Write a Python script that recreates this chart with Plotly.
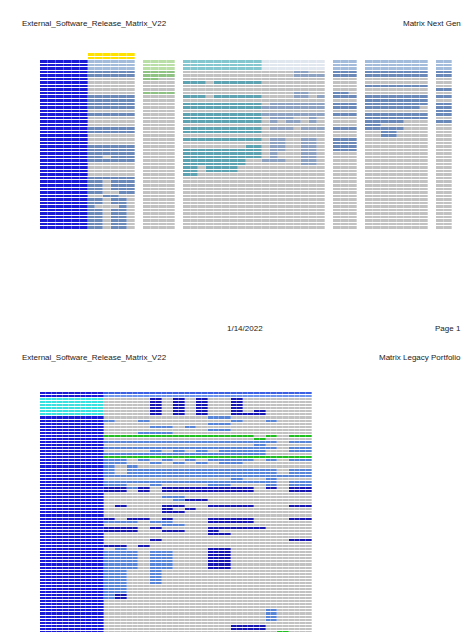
import plotly.graph_objects as go

W, H = 474, 632

# colour codes used in the cell maps
palette = {
    'w': '#ffffff', '.': '#c2c2c2', 'B': '#1b1bd6', 'S': '#6b89b9',
    'G': '#8fc383', 'T': '#5ea3b2', 'l': '#8ea3c2', 'H': '#a3bcdb',
    'h': '#b9dea6', 't': '#84c7cf', 'L': '#e1e7ef', 'Y': '#ffe100',
    'N': '#1818b0', 'b': '#5a86d8', 'g': '#1fbf1f', 'C': '#38e0e0',
    'K': '#3b60e4', 'M': '#7096ee',
}
codes = list(palette.keys())

# ---- page 1 : Matrix Next Gen ----
p1_groups = ['A', '_', 'G', '_', 'T', 'L', '_', 's', '_', 's', '_', 's']
p1_widths = [6, 1, 4, 1, 10, 8, 1, 3, 1, 8, 1, 2]
p1_fill = {'A': 'S', 'G': 'G', 'T': 'T', 'L': 'l', 's': 'S'}
p1_head = {'A': 'H', 'G': 'h', 'T': 't', 'L': 'L', 's': 'H'}
# one tuple per data row: (A, G, T, L, s1, s2, s3), X = filled cell
p1_rows = [
    ('XXXXXX', 'XXXX', '', '....XX..', 'XXX', 'XXXXXXXX', 'XX'),
    ('XXXXXX', 'XXXX', '', '....XXXX', 'XXX', 'XXXXXXXX', 'XX'),
    ('', 'XX', '', '', '', '', ''),
    ('', '', 'XXX.XXXXXX', '', '', '', ''),
    ('', '', '', '', '', 'XXXXXXXX', ''),
    ('', '', '', '', '', '', 'XX'),
    ('', 'XXXX', '', '....XX..', 'XX', '', ''),
    ('XXXXXX', '', 'XXX.XXXXXX', '....XX.X', 'XXX', 'XXXXXXXX', 'XX'),
    ('XXXXXX', '', '', '', '', 'XXXXXXXX', ''),
    ('XXXXXX', '', 'XXXXXXXXXX', '.XXXXXXX', 'XXX', 'XXXXXXXX', 'XX'),
    ('XXXXXX', '', 'XXXXXXXXXX', 'XXXXXXXX', 'XXX', 'XXXXXXX', 'XX'),
    ('', '', '', '', '', '', 'XX'),
    ('XXXXXX', '', 'XXXXXXXXXX', 'XXXXXXXX', 'XXX', 'XXXXXXXX', 'XX'),
    ('', '', 'XXXXXXXXXX', '.XXX..X.', '', 'XXXXXXXX', ''),
    ('', '', 'XXXXXXXXXX', '.X.XX.X.', '', 'XXXXX', 'XX'),
    ('', '', '', '', '', 'XX', ''),
    ('XXXXXX', '', 'XXXXXXXXXX', '.XXX.XXX', 'XXX', 'XXXXX', ''),
    ('XXXXXX', '', 'XXXXXXXXXX', '', '', '..XX', ''),
    ('', '', '', '', '', '..XX', ''),
    ('', '', 'XXXXXXXXXX', '.XX..XX.', 'XXX', '', ''),
    ('', '', '', '.XX..XX.', 'XXX', '', ''),
    ('XXXXXX', '', '........XX', '.XX..XX.', 'XXX', '', ''),
    ('XXXXXX', '', 'XXXXXXXXXX', '.XX..XX.', 'XXX', '', ''),
    ('XXXXXX', '', 'XXXXXXXXXX', '.X...XX.', '', '', ''),
    ('XX.XXX', '', 'XXXXXXXXXX', '.X...XX.', '', '', ''),
    ('XXXXXX', '', 'XXXXXXXX', 'XXX..XX.', '', '', ''),
    ('', '', 'XXXXXXXX', '.....XX.', '', '', ''),
    ('', '', 'XX.XXXX', '', '', '', ''),
    ('', '', 'XX.XXXX', '', '', '', ''),
    ('', '', 'XX', '', '', '', ''),
    ('XXXXXX', '', '', '', '', '', ''),
    ('XX.XXX', '', '', '', '', '', ''),
    ('XX.XXX', '', '', '', '', '', ''),
    ('XX.XXX', '', '', '', '', '', ''),
    ('XX..XX', '', '', '', '', '', ''),
    ('..XX', '', '', '', '', '', ''),
    ('XX.XX', '', '', '', '', '', ''),
    ('XX.XX', '', '', '', '', '', ''),
    ('X...X', '', '', '', '', '', ''),
    ('XX.XX', '', '', '', '', '', ''),
    ('XX.XX', '', '', '', '', '', ''),
    ('XX.XX', '', '', '', '', '', ''),
    ('XX.XX', '', '', '', '', '', ''),
    ('XX.XX', '', '', '', '', '', ''),
    ('XX.XX', '', '', '', '', '', ''),
]


def p1_line(cells, head=False, note=False):
    out = 'w' * 6 if note else 'B' * 6
    k = 0
    for g, wd in zip(p1_groups, p1_widths):
        if g == '_':
            out += 'w' * wd
            continue
        if note:
            out += ('Y' * wd) if g == 'A' else 'w' * wd
        elif head:
            out += p1_head[g] * wd
        else:
            s = cells[k].ljust(wd, '.')
            out += ''.join(p1_fill[g] if c == 'X' else '.' for c in s)
        if not note and not head:
            k += 1
    return out


p1_map = [p1_line(None, note=True)] * 2 + [p1_line(None, head=True)] * 3
p1_map += [p1_line(r) for r in p1_rows]

# ---- page 2 : Matrix Legacy Portfolio ----
p2_cells = [
    "N8-9 N12-13 N16-17 N22-23", "N8-9 N12-13 N16-17 N22-23",
    "N8-9 N12-13 N16-17 N22-23", "N8-9 N12-13 N16-17 N22-23",
    "N8-9 N12-13 N16-17 N22-23 N26-27", "N8-9 N12-13 N16-17 N22-27",
    "b18-21", "b0-1 b6-7 b22-23 b28-29", "b18-21", "b8-11 b14-15",
    "b18-21", "b6-11", "g0-25 g28-29 g32-35", "g26-27",
    "b0-29 b32-35", "b26-27", "b0-29 b32-35",
    "b8-9 b12-13 b16-17 b20-27 b32-35", "b0-27", "g0-35",
    "b0-3 b6-7 b10-11 b14-15 b18-25 b28-29 b32-35",
    "b0-3 b8-9 b12-13 b16-17 b20-23", "b0-1 b4-5",
    "b0-1 b4-29 b32-35", "b0-1 b4-29 b32-35", "b0-35", "b22-23 b28-29",
    "b0-29 b32-35", "b0-3 b8-9 b18-21 b28-29 b32-35",
    "N0-3 b4-5 N6-7 N10-21 N22-25 N28-29 N32-35",
    "N0-3 N6-7 N10-21 N22-25 N32-35", "", "b10-13", "b12-13 N14-17", "",
    "N2-3 N10-13 N18-21 N22-25 N32-35", "N10-11 N14-15", "N10-13", "",
    "N0-1 N4-7 N10-11 N18-21 N22-25 N32-35", "b0-5 b8-11 N18-21 N22-25",
    "b10-13", "N0-5 N8-9 N18-21 N22-27", "N0-5 N10-13 N18-19", "N18-21",
    "", "N8-9 N32-35", "", "N0-3 N6-7", "b2-3 N18-21",
    "b0-5 b8-11 N18-21", "b0-5 b8-11 N18-21", "b0-5 b8-11 N18-21",
    "b0-5 b8-11 N18-21", "b0-5 b8-11 N18-21", "b0-5 b8-11 N18-21",
    "b0-3 b8-9", "b0-3 b8-9", "b0-3 b8-9", "b0-3 b8-9", "b0-3 b8-9",
    "b0-3", "b0-3", "b0-3", "b0-1 N2-3", "b0-1 N2-3", "", "", "",
    "b28-29", "b28-29", "b28-29", "b28-29", "", "N22-27", "N22-27",
    "g30-31", "N30-31", "",
]
p2_left = ['C'] * 6 + ['B'] * (len(p2_cells) - 6)
p2_ncell = 36


def p2_line(spec, left):
    row = ['.'] * p2_ncell
    for part in spec.split():
        c, rng = part[0], part[1:]
        a, b = rng.split('-')
        for i in range(int(a), int(b) + 1):
            row[i] = c
    return left * 11 + ''.join(row)


p2_map = ['B' * 11 + 'K' * p2_ncell, 'B' * 11 + 'M' * p2_ncell]
p2_map += [p2_line(s, l) for s, l in zip(p2_cells, p2_left)]

n = len(codes)
cscale = []
for i, c in enumerate(codes):
    cscale.append([i / n, palette[c]])
    cscale.append([(i + 1) / n, palette[c]])


def to_z(m):
    return [[codes.index(ch) + 0.5 for ch in row] for row in m]


fig = go.Figure()
for m, ax in [(p1_map, ''), (p2_map, '2')]:
    fig.add_trace(go.Heatmap(z=to_z(m), colorscale=cscale, zmin=0, zmax=n,
                             showscale=False, xgap=0.3, ygap=1,
                             hoverinfo='skip', xaxis='x' + ax, yaxis='y' + ax))

fnt = dict(family='Liberation Sans, Arial', size=8, color='#222')
ann = [
    (12, 15, 'left', 'External_Software_Release_Matrix_V22'),
    (455, 15, 'right', 'Matrix Next Gen'),
    (237, 320, 'center', '1/14/2022'),
    (455, 320, 'right', 'Page 1'),
    (12, 350, 'left', 'External_Software_Release_Matrix_V22'),
    (455, 350, 'right', 'Matrix Legacy Portfolio'),
]
fig.update_layout(
    width=W, height=H, margin=dict(l=0, r=0, t=0, b=0),
    paper_bgcolor='white', plot_bgcolor='white',
    annotations=[dict(x=x / W, y=1 - y / H, xref='paper', yref='paper',
                      xanchor=a, yanchor='middle', text=t, showarrow=False,
                      font=fnt) for x, y, a, t in ann],
    xaxis=dict(domain=[32 / W, 444 / W], visible=False,
               range=[-0.5, len(p1_map[0]) - 0.5]),
    yaxis=dict(domain=[1 - 222 / H, 1 - 45 / H], visible=False,
               range=[len(p1_map) - 0.5, -0.5]),
    xaxis2=dict(domain=[32 / W, 304 / W], visible=False, anchor='y2',
                range=[-0.5, len(p2_map[0]) - 0.5]),
    yaxis2=dict(domain=[0, 1 - 384 / H], visible=False, anchor='x2',
                range=[len(p2_map) - 0.5, -0.5]),
)
fig.write_html("out.html")
